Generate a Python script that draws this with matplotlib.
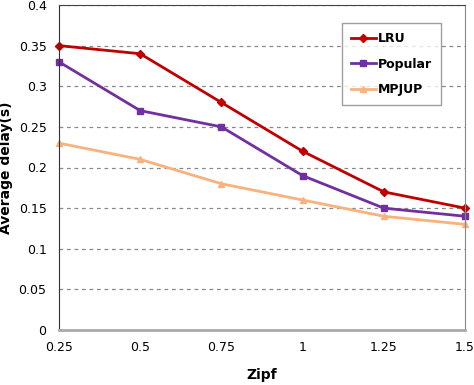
import matplotlib.pyplot as plt

zipf = [0.25, 0.5, 0.75, 1, 1.25, 1.5]
zipf_labels = ['0.25', '0.5', '0.75', '1', '1.25', '1.5']
lru = [0.35, 0.34, 0.28, 0.22, 0.17, 0.15]
popular = [0.33, 0.27, 0.25, 0.19, 0.15, 0.14]
mpjup = [0.23, 0.21, 0.18, 0.16, 0.14, 0.13]
yticks = [0, 0.05, 0.1, 0.15, 0.2, 0.25, 0.3, 0.35, 0.4]
ytick_labels = ['0', '0.05', '0.1', '0.15', '0.2', '0.25', '0.3', '0.35', '0.4']

fig = plt.figure(figsize=(4.74, 3.85), dpi=100)
ax = fig.add_axes([59/474, 1 - 330/385, 406/474, 325/385])

ax.plot(zipf, lru, color='#C00000', lw=2, marker='D', ms=4, label='LRU', clip_on=False)
ax.plot(zipf, popular, color='#7030A0', lw=2, marker='s', ms=5, label='Popular', clip_on=False)
ax.plot(zipf, mpjup, color='#F8B27E', lw=2, marker='^', ms=5, label='MPJUP', clip_on=False)

ax.set_xlim(0.25, 1.5)
ax.set_ylim(0, 0.4)
ax.set_xticks(zipf)
ax.set_xticklabels(zipf_labels)
ax.set_yticks(yticks)
ax.set_yticklabels(ytick_labels)
ax.tick_params(length=0, labelsize=9)
ax.tick_params(axis='y', pad=9)
ax.tick_params(axis='x', pad=8)
ax.yaxis.grid(True, linestyle=(0, (3, 3)), color='#888888', lw=0.9)
ax.set_axisbelow(True)

ax.spines['left'].set_linestyle((0, (1, 1)))
ax.spines['left'].set_color('#333333')
ax.spines['bottom'].set_color('#aaaaaa')
ax.spines['bottom'].set_linewidth(2)
ax.spines['top'].set_color('#444444')
ax.spines['right'].set_color('#888888')

ax.set_xlabel('Zipf', fontweight='bold', fontsize=10, labelpad=10)
ax.set_ylabel('Average delay(s)', fontweight='bold', fontsize=10, labelpad=4)

leg = ax.legend(loc='upper right', bbox_to_anchor=(0.956, 0.963), fancybox=False,
                edgecolor='#888888', prop={'weight': 'bold', 'size': 9},
                handlelength=2.0, handletextpad=0.2, labelspacing=1.0, borderpad=0.7)
leg.get_frame().set_linewidth(1)

fig.savefig('out.png', dpi=100)
